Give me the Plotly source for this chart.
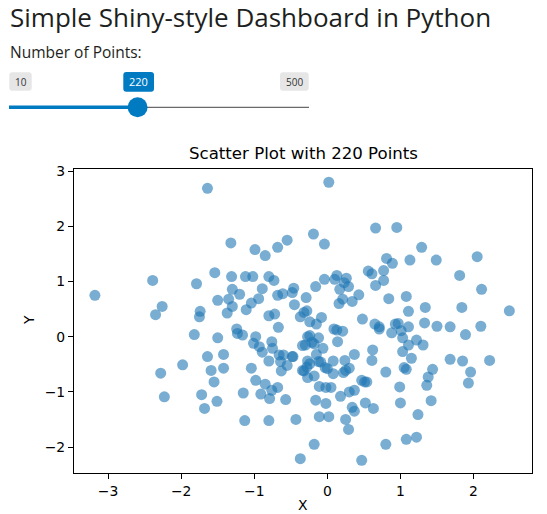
import plotly.graph_objects as go

# ---- data ----
x_vals = [
    -1.64, -3.18, -2.39, -2.26, -2.35, -1.32, -0.99, -0.85, -0.68, -0.55,
    -1.54, -1.79, -1.31, -1.12, -1.02, -0.80, -0.73, -1.30, -1.20, -0.89,
    -0.94, -1.04, -1.11, -1.35, -1.30, -1.37, -1.50, -1.74, -1.75, -0.68,
    -0.61, -0.46, -0.48, -0.45, -0.29, -0.80, -0.72, -0.67, -1.24, -0.37,
    -0.32, -0.28, -0.24, -0.15, -0.08,
    0.02, -0.19, -0.04, 0.66, 0.95, 1.29, 1.13, 1.49, 2.05, 0.81,
    0.89, 0.56, 0.61, 0.77, 0.77, 0.66, 1.81, 2.11, 2.49, -0.04,
    0.10, 0.13, 0.26, 0.23, 0.29, 0.17, -0.16, 0.43, 0.21, 0.16,
    0.34, 0.84, 1.08, 1.11, 1.34, 1.84, 0.48, 0.65, 0.71, 0.93,
    0.97, 1.11, 1.33, 1.50, 1.68, 2.10, 0.09, 0.13, 0.21, 0.71,
    1.89, 0.88, 1.01, 0.14, -0.24, -0.12, -0.21, -0.18, -0.34, -0.30,
    -0.06, -0.15, 1.03, 1.22, 1.31, 1.11, 0.37, 0.62, 0.61, 1.03,
    1.15, 1.68, 1.85, 2.22, 1.96, 1.93, 1.44, 1.38, 1.36, 1.42,
    1.24, 1.22, 1.08, 0.80, 0.47, -0.18, -0.37, -0.43, 0.80, 1.05,
    1.08, 0.99, 1.00, 0.47, 0.51, 0.54, 0.37, 0.30, 0.18, 0.52,
    0.63, 0.34, 0.37, 0.25, 0.29, -0.02, -0.16, -0.11, 0.02, -0.11,
    -0.02, 0.05, -0.18, -0.27, 0.08, 0.22, 0.25, 0.30, 0.24, 0.08,
    -0.03, 0.00, -0.12, -0.09, -0.27, -0.24, -0.28, -0.34, -0.32,
    -1.82, -1.50, -1.23, -1.16, -0.98, -1.01, -0.93, -0.89, -0.76, -0.75,
    -0.66, -0.60, -0.48, -0.47, -0.80, -0.64, -0.55, -0.63, -0.27, -1.64,
    -1.42, -1.59, -1.42, -1.98, -2.28, -2.23, -1.55, -1.72, -1.51, -1.68,
    -1.04, -0.98, -0.85, -0.68, -0.76, -1.15, -0.91, -0.79, -0.57, -1.13,
    -0.80,
]
y_vals = [
    2.69, 0.75, 1.02, 0.55, 0.40, 1.70, 1.58, 1.47, 1.62, 1.75,
    1.16, 0.96, 1.09, 1.09, 1.09, 1.09, 1.02, 0.86, 0.77, 0.87,
    0.69, 0.61, 0.49, 0.68, 0.55, 0.43, 0.66, 0.46, 0.36, 0.75,
    0.78, 0.88, 0.80, 0.58, 0.71, 0.38, 0.41, 0.17, 0.14, 0.36,
    0.44, 0.47, 0.27, 0.23, 0.35,
    2.80, 1.86, 1.68, 1.97, 1.98, 1.62, 1.39, 1.39, 1.45, 1.42,
    1.33, 1.19, 1.14, 1.20, 1.02, 0.93, 1.11, 0.86, 0.47, 1.04,
    1.04, 1.11, 1.06, 0.98, 0.91, 0.86, 0.91, 0.76, 0.68, 0.60,
    0.64, 0.69, 0.73, 0.46, 0.53, 0.53, 0.32, 0.23, 0.18, 0.23,
    0.24, 0.18, 0.25, 0.19, 0.18, 0.19, 0.14, 0.12, 0.10, 0.14,
    0.04, 0.07, 0.11, -0.09, 0.02, -0.02, -0.10, -0.13, -0.16, -0.15,
    -0.21, -0.32, -0.02, -0.06, -0.15, -0.15, -0.32, -0.24, -0.43, -0.27,
    -0.39, -0.41, -0.44, -0.43, -0.64, -0.84, -0.59, -0.73, -0.88, -1.16,
    -1.41, -1.82, -1.86, -1.95, -2.24, -1.95, -2.21, -1.50, -0.64, -0.56,
    -0.59, -0.91, -1.20, -0.79, -0.82, -0.82, -0.97, -1.00, -1.08, -1.20,
    -1.30, -1.28, -1.35, -1.50, -1.68, -1.21, -1.15, -1.45, -1.45, -0.90,
    -0.92, -0.92, -0.71, -0.74, -0.67, -0.65, -0.61, -0.57, -0.43, -0.44,
    -0.56, -0.58, -0.45, -0.46, -0.44, -0.49, -0.55, -0.61, -0.62,
    0.04, -0.02, 0.06, 0.03, 0.00, -0.12, -0.18, -0.28, -0.09, -0.21,
    -0.33, -0.33, -0.36, -0.36, -0.44, -0.45, -0.52, -0.62, 0.00, -0.36,
    -0.32, -0.61, -0.57, -0.51, -0.66, -1.09, -0.82, -1.05, -1.17, -1.30,
    -0.57, -0.79, -0.86, -0.92, -0.97, -1.02, -1.04, -1.12, -1.14, -1.52,
    -1.52,
]
x_ticks = [-3, -2, -1, 0, 1, 2]
y_ticks = [-2, -1, 0, 1, 2, 3]
n_points = 220
slider_min, slider_max = 10, 500

page_title = "Simple Shiny-style Dashboard in Python"
input_label = "Number of Points:"
plot_title = f"Scatter Plot with {n_points} Points"

# ---- layout geometry (pixels) ----
W, H = 547, 514
L, R, T, B = 74, 532, 169, 473


def fx(p):
    return (p - L) / (R - L)


def fy(p):
    return (B - p) / (B - T)


def rounded_rect(x0, y0, x1, y1, r):
    rx = r / (R - L)
    ry = r / (B - T)
    X0, X1 = fx(x0), fx(x1)
    Yt, Yb = fy(y0), fy(y1)
    return (f"M {X0+rx},{Yt} L {X1-rx},{Yt} Q {X1},{Yt} {X1},{Yt-ry} "
            f"L {X1},{Yb+ry} Q {X1},{Yb} {X1-rx},{Yb} L {X0+rx},{Yb} "
            f"Q {X0},{Yb} {X0},{Yb+ry} L {X0},{Yt-ry} Q {X0},{Yt} {X0+rx},{Yt} Z")


BLUE = "#007bc2"
MPL_BLUE = "#1f77b4"
TXT = "#1d1f21"

fig = go.Figure()
fig.add_trace(go.Scatter(
    x=x_vals, y=y_vals, mode="markers",
    marker=dict(color=MPL_BLUE, opacity=0.6, size=11, line=dict(width=0)),
    hoverinfo="skip", showlegend=False,
))

axis_common = dict(
    showgrid=False, zeroline=False, showline=True, mirror=True,
    linecolor="black", linewidth=1.2, ticks="outside", ticklen=5,
    tickwidth=1.2, tickcolor="black",
    tickfont=dict(family="DejaVu Sans", size=13.9, color="black"),
)

track_x0, track_x1, track_y = 9, 309, 107.3
handle_x = track_x0 + 0.4286 * (track_x1 - track_x0)

shapes = [
    dict(type="line", xref="paper", yref="paper",
         x0=fx(handle_x), x1=fx(track_x1), y0=fy(track_y), y1=fy(track_y),
         line=dict(color="#444444", width=1)),
    dict(type="rect", xref="paper", yref="paper",
         x0=fx(track_x0), x1=fx(handle_x), y0=fy(track_y + 1.8), y1=fy(track_y - 1.8),
         line=dict(width=0), fillcolor=BLUE),
    dict(type="circle", xref="paper", yref="paper",
         x0=fx(handle_x - 10), x1=fx(handle_x + 10),
         y0=fy(track_y + 10), y1=fy(track_y - 10),
         line=dict(width=0), fillcolor=BLUE),
    dict(type="path", xref="paper", yref="paper",
         path=rounded_rect(9.3, 72.3, 31.7, 90.7, 3), line=dict(width=0), fillcolor="#e6e6e6"),
    dict(type="path", xref="paper", yref="paper",
         path=rounded_rect(280, 72.3, 308.7, 90.7, 3), line=dict(width=0), fillcolor="#e6e6e6"),
    dict(type="path", xref="paper", yref="paper",
         path=rounded_rect(123.3, 72, 154, 91.7, 3), line=dict(width=0), fillcolor=BLUE),
]

annotations = [
    dict(text=page_title, x=fx(8), y=fy(17), xanchor="left", yanchor="middle",
         font=dict(family="Open Sans", size=26, color=TXT)),
    dict(text=input_label, x=fx(8), y=fy(52), xanchor="left", yanchor="middle",
         font=dict(family="Open Sans", size=15.5, color=TXT)),
    dict(text=str(slider_min), x=fx(20.5), y=fy(81.5), xanchor="center", yanchor="middle",
         font=dict(family="Open Sans", size=10, color="#333333")),
    dict(text=str(slider_max), x=fx(294.3), y=fy(81.5), xanchor="center", yanchor="middle",
         font=dict(family="Open Sans", size=10, color="#333333")),
    dict(text=str(n_points), x=fx(138.6), y=fy(81.8), xanchor="center", yanchor="middle",
         font=dict(family="Open Sans", size=11, color="white")),
    dict(text=plot_title, x=0.5, y=fy(154), xanchor="center", yanchor="middle",
         font=dict(family="DejaVu Sans", size=16.6, color="black")),
    dict(text="X", x=0.5, y=fy(505), xanchor="center", yanchor="middle", borderpad=0,
         font=dict(family="DejaVu Sans", size=13.9, color="black")),
    dict(text="Y", x=fx(28.5), y=fy(320.5), xanchor="center", yanchor="middle",
         textangle=-90, font=dict(family="DejaVu Sans", size=13.9, color="black")),
]
for a in annotations:
    a.update(xref="paper", yref="paper", showarrow=False)

fig.update_layout(
    width=W, height=H,
    margin=dict(l=L, r=W - R, t=T, b=H - B, pad=0),
    paper_bgcolor="white", plot_bgcolor="white",
    xaxis=dict(range=[-3.466, 2.80], tickvals=x_ticks, **axis_common),
    yaxis=dict(range=[-2.47, 3.04], tickvals=y_ticks, **axis_common),
    shapes=shapes, annotations=annotations,
)

fig.write_html("out.html", config={"displayModeBar": False},
               post_script="document.body.style.margin='0';document.body.style.overflow='hidden';")
